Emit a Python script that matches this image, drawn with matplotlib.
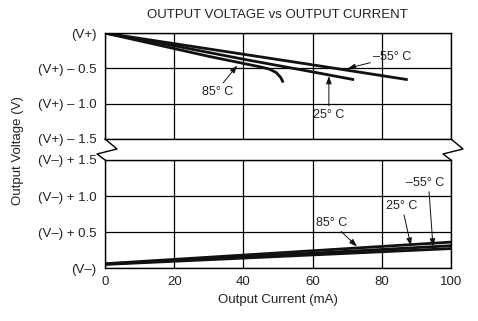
import numpy as np
import matplotlib.pyplot as plt
from matplotlib.lines import Line2D

plt.rcParams['font.family'] = ['Liberation Sans', 'DejaVu Sans']
plt.rcParams['font.size'] = 9

# output high (offset from V+), volts vs mA
cur_hi_m55 = [0, 20, 40, 60, 87.5]
v_hi_m55 = [0, -0.15, -0.30, -0.45, -0.66]
cur_hi_25 = [0, 20, 40, 60, 72]
v_hi_25 = [0, -0.18, -0.37, -0.55, -0.66]
cur_hi_85 = [0, 10, 20, 30, 40, 45, 47.5, 49.5, 50.8, 51.5]
v_hi_85 = [0, -0.11, -0.22, -0.33, -0.43, -0.48, -0.51, -0.56, -0.63, -0.70]

# output low (offset from V-)
cur_lo = [0, 50, 100]
v_lo_m55 = [0.05, 0.16, 0.27]
v_lo_25 = [0.055, 0.18, 0.31]
v_lo_85 = [0.06, 0.21, 0.36]

xticks = [0, 20, 40, 60, 80, 100]
hi_ticks = [0, -0.5, -1.0, -1.5]
hi_labels = ['(V+)', '(V+) – 0.5', '(V+) – 1.0', '(V+) – 1.5']
lo_ticks = [0, 0.5, 1.0, 1.5]
lo_labels = ['(V–)', '(V–) + 0.5', '(V–) + 1.0', '(V–) + 1.5']

txt = '#222222'
fig = plt.figure(figsize=(4.78, 3.21), dpi=100)
ax1 = fig.add_axes([0.2197, 0.567, 0.7238, 0.330])
ax2 = fig.add_axes([0.2197, 0.165, 0.7238, 0.3366])

for ax in (ax1, ax2):
    ax.set_xlim(0, 100)
    ax.set_xticks(xticks)
    ax.grid(True, color='black', lw=0.9)
    ax.tick_params(length=0, pad=6, colors=txt, labelsize=9.5)
    for s in ax.spines.values():
        s.set_linewidth(1.0)

ax1.set_ylim(-1.5, 0)
ax1.set_yticks(hi_ticks)
ax1.set_yticklabels(hi_labels)
ax1.tick_params(axis='x', labelbottom=False)
ax2.set_ylim(0, 1.5)
ax2.set_yticks(lo_ticks)
ax2.set_yticklabels(lo_labels)

lw = 2.0
ax1.plot(cur_hi_m55, v_hi_m55, color='#111', lw=lw, solid_capstyle='butt')
ax1.plot(cur_hi_25, v_hi_25, color='#111', lw=lw, solid_capstyle='butt')
ax1.plot(cur_hi_85, v_hi_85, color='#111', lw=lw, solid_capstyle='butt')
ax2.plot(cur_lo, v_lo_m55, color='#111', lw=lw, solid_capstyle='butt')
ax2.plot(cur_lo, v_lo_25, color='#111', lw=lw, solid_capstyle='butt')
ax2.plot(cur_lo, v_lo_85, color='#111', lw=lw, solid_capstyle='butt')

arr = dict(arrowstyle='-|>,head_length=0.5,head_width=0.18', color='#111', lw=0.7, shrinkA=0, shrinkB=0)
ax1.annotate('–55° C', xy=(70.2, -0.50), xytext=(77.5, -0.34), ha='left', va='center',
             color=txt, arrowprops=arr)
ax1.annotate('25° C', xy=(64.7, -0.61), xytext=(64.7, -1.07), ha='center', va='top',
             color=txt, arrowprops=arr)
ax1.annotate('85° C', xy=(38.2, -0.46), xytext=(32.6, -0.83), ha='center', va='center',
             color=txt, arrowprops=dict(arr, relpos=(0.6, 1.0)))
ax2.annotate('85° C', xy=(72.8, 0.30), xytext=(65.6, 0.63), ha='center', va='center',
             color=txt, arrowprops=dict(arr, relpos=(0.7, 0.0)))
ax2.annotate('25° C', xy=(88.4, 0.31), xytext=(85.8, 0.86), ha='center', va='center',
             color=txt, arrowprops=dict(arr, relpos=(0.55, 0.0)))
ax2.annotate('–55° C', xy=(94.8, 0.30), xytext=(92.5, 1.18), ha='center', va='center',
             color=txt, arrowprops=dict(arr, relpos=(0.6, 0.0)))

# break marks between the two panels
w, h = 346.0, 106.0
zx = np.array([0, 12, -8, 0]) / w
zy = np.array([0, -10, -15, -21]) / h
for x0 in (0.0, 1.0):
    ax1.add_line(Line2D(x0 + zx, zy, transform=ax1.transAxes, color='black',
                        lw=1.0, clip_on=False))

fig.text(0.58, 0.953, 'OUTPUT VOLTAGE vs OUTPUT CURRENT', ha='center', va='center',
         color=txt, fontsize=9.5)
fig.text(0.038, 0.53, 'Output Voltage (V)', rotation=90, ha='center', va='center',
         color=txt, fontsize=9.5)
ax2.set_xlabel('Output Current (mA)', color=txt, fontsize=9.5, labelpad=4)

fig.savefig('out.png', dpi=100)
